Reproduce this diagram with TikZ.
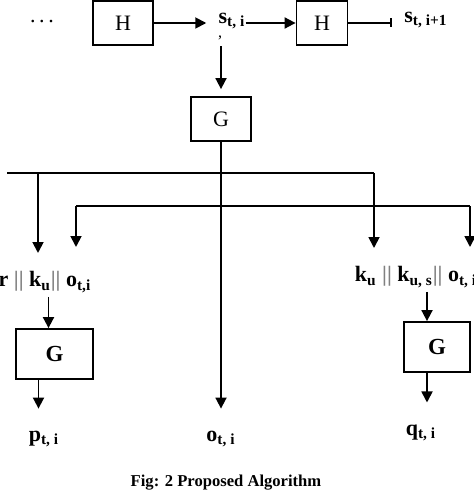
\documentclass[tikz,border=0pt]{standalone}
\usepackage{fontspec}
\setmainfont{Liberation Serif}
\usetikzlibrary{arrows.meta,positioning}

\begin{document}
\begin{tikzpicture}[x=0.5pt, y=-0.5pt,
          blk/.style={rectangle, draw, line width=0.9pt, minimum width=30pt, minimum height=22pt, inner sep=0pt, font=\fontsize{11}{13}\selectfont},
          lbl/.style={inner sep=0pt, font=\fontsize{11}{13}\selectfont\bfseries},
          arr/.style={line width=0.9pt, -{Triangle[length=5.5pt, width=5.5pt]}},
          bus/.style={line width=0.9pt}
        ]
          \useasboundingbox (0,0) rectangle (474,492);
          \node[inner sep=0pt, font=\fontsize{11}{13}\selectfont] (dots) at (42,22) {.\,.\,.};
          \node[blk] (h1) at (123,23) {H};
          \node[lbl] (sti) at (232,21) {s\textsubscript{t, i}};
          \node[lbl, font=\fontsize{8}{9}\selectfont] (tick) at (220,38) {,};
          \node[blk, minimum width=25.5pt] (h2) at (322,23) {H};
          \node[lbl] (stn) at (426,20) {s\textsubscript{t, i+1}};
          \node[blk] (g1) at (221,119) {G};
          \node[lbl] (inL) at (45,282) {r {\color{gray}||} k\textsubscript{u}{\color{gray}||} o\textsubscript{t,i}};
          \node[lbl] (inR) at (416,277) {k\textsubscript{u} {\color{gray}||} k\textsubscript{u, s}{\color{gray}||} o\textsubscript{t, i}};
          \node[blk, minimum width=38.5pt, minimum height=25pt, font=\fontsize{11.5}{13}\selectfont\bfseries] (gL) at (54.5,354) {G};
          \node[blk, minimum width=33pt, minimum height=25pt, font=\fontsize{11.5}{13}\selectfont\bfseries] (gR) at (437,347) {G};
          \node[lbl] (pti) at (44,439) {p\textsubscript{t, i}};
          \node[lbl] (oti) at (221,439) {o\textsubscript{t, i}};
          \node[lbl] (qti) at (421,433) {q\textsubscript{t, i}};
          \node[font=\fontsize{8.3}{10}\selectfont\bfseries] (cap) at (226,483) {Fig: 2 Proposed Algorithm};

          \coordinate (busL) at (7,173);
          \coordinate (busR) at (374,173);
          \coordinate (bus2L) at (76,206);
          \coordinate (bus2R) at (470,206);
          \coordinate (tipA) at (38,253);
          \coordinate (tipB) at (374,248);
          \coordinate (tipC) at (76,247);
          \coordinate (tipD) at (470,247);
          \coordinate (stop) at (392,23);

          \draw[arr] (h1.east) -- (h1.east -| sti.west) [shorten >=6pt];
          \draw[arr] (sti.east |- h2.west) -- (h2.west);
          \draw[bus, -{Bar[width=4.5pt, line width=1.2pt]}] (h2.east) -- (stop);
          \draw[arr, shorten <=3pt, shorten >=3.5pt] (g1.north |- tick.south) -- (g1.north);
          \draw[arr] (g1.south) -- (g1.south |- oti.north) [shorten >=11pt];
          \draw[bus] (busL) -- (busR);
          \draw[bus] (bus2L) -- (bus2R);
          \draw[arr] (busL -| tipA) -- (tipA);
          \draw[arr] (busR) -- (tipB);
          \draw[arr] (bus2L) -- (tipC);
          \draw[arr] (bus2R) -- (tipD);
          \draw[arr, shorten <=2pt] ([xshift=-3pt]gL.north |- inL.south) -- ([xshift=-3pt]gL.north);
          \draw[arr] ([xshift=-8pt]gL.south) -- ([xshift=-8pt]gL.south |- pti.north) [shorten >=11pt];
          \draw[arr, shorten <=2pt] ([xshift=-5pt]gR.north |- inR.south) -- ([xshift=-5pt]gR.north);
          \draw[arr] ([xshift=-5pt]gR.south) -- ([xshift=-5pt]gR.south |- qti.north) [shorten >=11pt];
        \end{tikzpicture}
\end{document}
